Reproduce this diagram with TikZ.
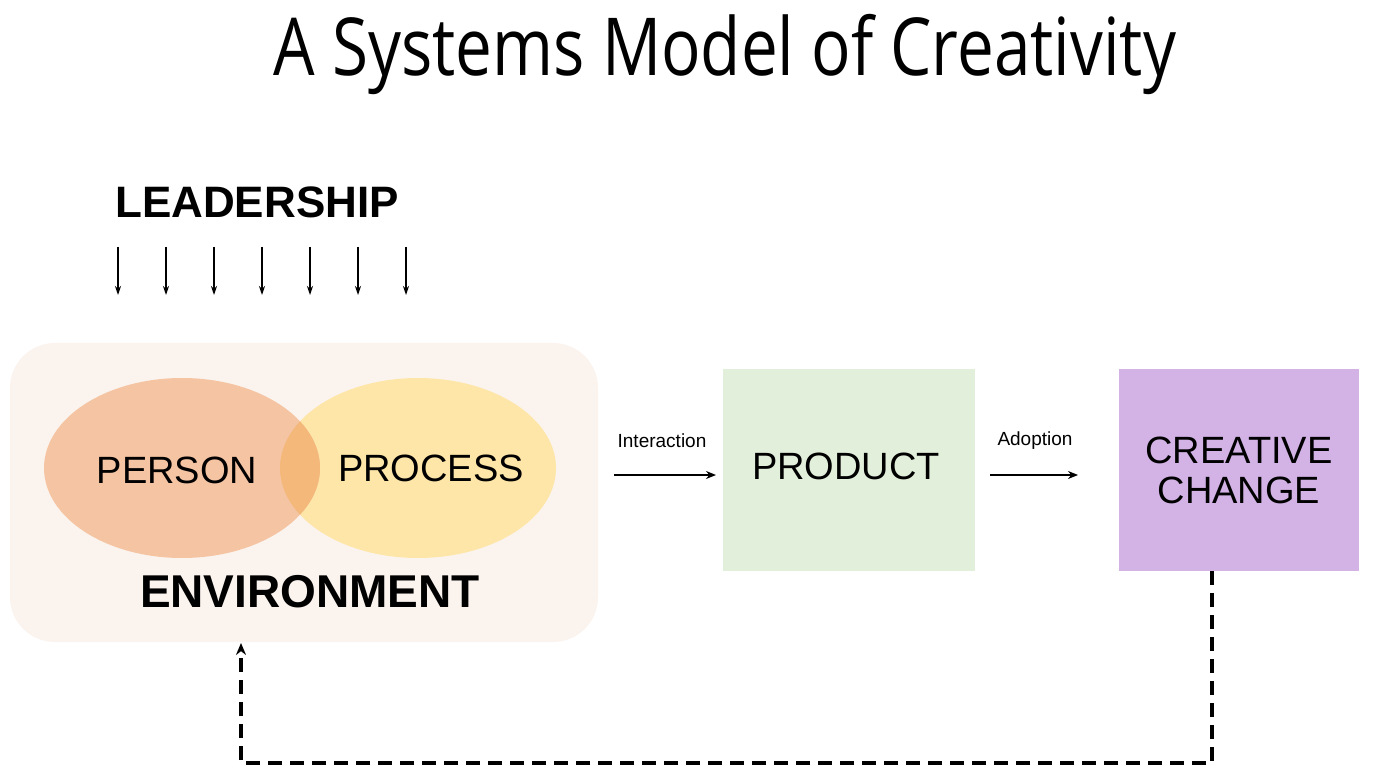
\documentclass[tikz,border=0pt]{standalone}
\usepackage{fontspec}
\setmainfont{Liberation Sans}
\newfontfamily\titlefont{Open Sans}
\usetikzlibrary{arrows.meta}
\definecolor{envc}{RGB}{251,243,238}
\definecolor{procc}{RGB}{253,230,168}
\definecolor{persc}{RGB}{245,196,163}
\definecolor{overc}{RGB}{243,184,122}
\definecolor{prodc}{RGB}{226,239,218}
\definecolor{ccc}{RGB}{211,178,230}
\begin{document}
\begin{tikzpicture}[x=1pt,y=-1pt,
  lab/.style={font=\fontsize{38}{40}\selectfont},
  blab/.style={font=\bfseries\fontsize{46}{48}\selectfont},
  small/.style={font=\fontsize{19}{21}\selectfont},
  lead/.style={-{Stealth[length=9pt,width=6pt]},line width=1.2pt},
  flow/.style={-{Stealth[length=10pt,width=8pt]},line width=2.5pt}]
\useasboundingbox (0,0) rectangle (1392,783);
\node (title) at (725,55) {\titlefont\scalebox{0.82}[1]{\fontsize{80}{84}\selectfont A Systems Model of Creativity}};
\node[font=\bfseries\fontsize{44}{46}\selectfont] (lead) at (257,202) {LEADERSHIP};
\foreach \x [count=\i] in {118,166,214,262,310,358,406}{
  \coordinate (a\i) at (\x,247); \coordinate (b\i) at (\x,295);
  \draw[lead] (a\i) -- (b\i);}
\node[fill=envc,rounded corners=45pt,minimum width=588pt,minimum height=299pt,inner sep=0pt] (env) at (304,492.5) {};
\fill[procc] (418,468) ellipse [x radius=138,y radius=90];
\fill[persc] (182,468) ellipse [x radius=138,y radius=90];
\begin{scope}
\clip (418,468) ellipse [x radius=138,y radius=90];
\fill[overc] (182,468) ellipse [x radius=138,y radius=90];
\end{scope}
\node[lab] (person) at (177,470) {PERSON};
\node[lab] (process) at (431,468) {PROCESS};
\node[blab] (envt) at (310,592) {ENVIRONMENT};
\node[fill=prodc,minimum width=252pt,minimum height=202pt,inner sep=0pt] (prod) at (849,470) {};
\node[lab] at (846,466) {PRODUCT};
\node[fill=ccc,minimum width=240pt,minimum height=202pt,inner sep=0pt] (cc) at (1239,470) {};
\node[lab,align=center] at (1239,470) {CREATIVE\\CHANGE};
\coordinate (i1) at (614,475); \coordinate (i2) at (716,475);
\draw[flow] (i1) -- (i2);
\node[small] at (662,441) {Interaction};
\coordinate (d1) at (990,475); \coordinate (d2) at (1078,475);
\draw[flow] (d1) -- (d2);
\node[small] at (1035,441) {Adoption};
\coordinate (c1) at (1212,571); \coordinate (c2) at (1212,763); \coordinate (c3) at (241,763); \coordinate (c4) at (241,643);
\draw[line width=3.5pt,dash pattern=on 14pt off 8pt,-{Stealth[length=12pt,width=10pt]}] (c1) -- (c2) -- (c3) -- (c4);
\end{tikzpicture}
\end{document}
